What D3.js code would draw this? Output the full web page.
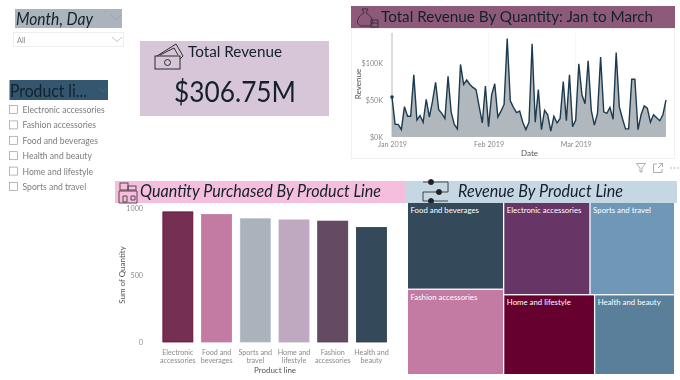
<!DOCTYPE html>
<html>
<head>
<meta charset="utf-8">
<script src="https://cdn.jsdelivr.net/npm/d3@7"></script>
<style>
  html, body { margin: 0; background: #fff; }
  svg { display: block; font-family: Lato, sans-serif; filter: blur(0.3px); }
  .head { fill: #14202c; }
  .domain { display: none; }
  .tick line { display: none; }
  .tick text { fill: #8a8a8a; font-size: 7.2px; font-family: Lato, sans-serif; }
</style>
</head>
<body>
<svg id="chart" width="680" height="380"></svg>
<script>
// daily revenue in $K, Jan 1 to Mar 30 2019
const revenue = [54, 17, 17, 10, 41, 28, 28, 84, 23, 29, 20, 51, 27, 48, 74, 37, 32, 25, 82, 34,
  17, 11, 98, 71, 77, 71, 67, 64, 41, 19, 69, 14, 57, 72, 27, 35, 44, 133, 49, 40, 33, 35, 20, 10,
  20, 126, 20, 64, 10, 36, 30, 8, 28, 19, 25, 75, 22, 84, 14, 23, 99, 57, 45, 103, 36, 16, 32, 108,
  34, 32, 40, 24, 114, 41, 25, 11, 11, 78, 78, 10, 30, 42, 39, 20, 30, 26, 22, 30, 50];
const startDate = new Date(2019, 0, 1);
const endDate = new Date(2019, 2, 30);
const monthTicks = [new Date(2019, 0, 1), new Date(2019, 1, 1), new Date(2019, 2, 1)];
const revenueTicks = [0, 50, 100];

const barLines = ['Electronic accessories', 'Food and beverages', 'Sports and travel',
  'Home and lifestyle', 'Fashion accessories', 'Health and beauty'];
const barValues = [971, 952, 920, 911, 902, 854];
const barColors = ['#742f52', '#c37aa3', '#aab3bb', '#bfa9c1', '#654a64', '#34495a'];
const barStrokes = ['#680a33', '#c37aa3', '#b4bcc3', '#bfa9c1', '#553a55', '#243c4d'];
const qtyTicks = [0, 500, 1000];

const treeLines = ['Food and beverages', 'Fashion accessories', 'Electronic accessories',
  'Sports and travel', 'Home and lifestyle', 'Health and beauty'];
const treeValues = [55.7, 54.8, 53.1, 52.1, 48.4, 42.6];
const treeColors = ['#34495a', '#c37aa3', '#673566', '#6f98b8', '#66002e', '#5a7f9a'];

const sliceItems = ['Electronic accessories', 'Fashion accessories', 'Food and beverages',
  'Health and beauty', 'Home and lifestyle', 'Sports and travel'];

const svg = d3.select('#chart');

function chevron(x, y, color) {
  svg.append('path')
    .attr('d', `M${x},${y} l5,4.5 l5,-4.5`)
    .attr('fill', 'none')
    .attr('stroke', color)
    .attr('stroke-width', 0.8);
}

function band(x, y, w, h, fill) {
  svg.append('rect').attr('x', x).attr('y', y).attr('width', w).attr('height', h).attr('fill', fill);
}

// the original font is narrower than Lato, so titles get squeezed to their measured width
function heading(x, y, size, txt, width, italic) {
  svg.append('text')
    .attr('class', 'head')
    .attr('x', x)
    .attr('y', y)
    .attr('font-size', size)
    .attr('font-style', italic ? 'italic' : 'normal')
    .attr('textLength', width)
    .attr('lengthAdjust', 'spacingAndGlyphs')
    .text(txt);
}

// month/day slicer
band(15, 9, 107, 19, '#abb4bc');
heading(16, 25, 16.5, 'Month, Day', 77, true);
chevron(111, 15, '#98a1a9');
svg.append('rect').attr('x', 13.5).attr('y', 32.5).attr('width', 110).attr('height', 14)
  .attr('fill', '#fff').attr('stroke', '#eceff1');
svg.append('text').attr('x', 17).attr('y', 43).attr('font-size', 7.5).attr('fill', '#8a8a8a').text('All');
chevron(112, 37, '#b5b5b5');

// product line slicer
band(9.5, 80, 98.5, 20, '#34566f');
heading(10, 96.7, 17, 'Product li...', 77, false);
chevron(98, 87, '#46677f');
const sliceY = d3.scalePoint().domain(sliceItems).range([110, 187]);
sliceItems.forEach(d => {
  svg.append('rect').attr('x', 9.5).attr('y', sliceY(d) - 4.5).attr('width', 8).attr('height', 8)
    .attr('fill', '#fff').attr('stroke', '#9a9a9a').attr('stroke-width', 0.7);
  svg.append('text').attr('x', 22.5).attr('y', sliceY(d) + 3).attr('font-size', 8.6)
    .attr('fill', '#7c7c7c').text(d);
});

// KPI card
band(140, 41, 189, 75, '#d6c6d8');
heading(188, 56.5, 15.5, 'Total Revenue', 94, false);
heading(174, 102, 28, '$306.75M', 122, false);
const cash = svg.append('g').attr('fill', 'none').attr('stroke', '#1c1c1c').attr('stroke-width', 0.9);
cash.append('rect').attr('x', 155).attr('y', 56).attr('width', 25).attr('height', 13);
cash.append('circle').attr('cx', 167.5).attr('cy', 62.5).attr('r', 3);
cash.append('path').attr('d', 'M157,56 L176,44 L183,56 L180,59 M160,55 L174,48 L178,55');

// line chart card
band(351, 6, 324, 22, '#8e5a7c');
heading(381, 21.7, 16, 'Total Revenue By Quantity: Jan to March', 272, false);
svg.append('rect').attr('x', 351.5).attr('y', 28.5).attr('width', 323).attr('height', 130)
  .attr('fill', '#fff').attr('stroke', '#f1f1f1');
const bag = svg.append('g').attr('fill', 'none').attr('stroke', '#3a2a36').attr('stroke-width', 0.9);
bag.append('path').attr('d', 'M362,9 L368,9 L366,13 C374,17 374,25 370,26 L361,26 C356,25 356,17 364,13 Z');
bag.append('rect').attr('x', 371).attr('y', 20).attr('width', 7).attr('height', 7);
bag.append('path').attr('d', 'M371,23 H378');

const x = d3.scaleTime().domain([startDate, endDate]).range([392, 666]);
const y = d3.scaleLinear().domain([0, 100]).range([137, 63]);
const dates = revenue.map((d, i) => d3.timeDay.offset(startDate, i));

svg.append('g').selectAll('line').data(monthTicks.slice(1))
  .join('line')
  .attr('x1', d => x(d)).attr('x2', d => x(d)).attr('y1', 33).attr('y2', 137)
  .attr('stroke', '#f6f6f6');

svg.append('path').datum(revenue)
  .attr('fill', '#b0b7bd')
  .attr('d', d3.area().x((d, i) => x(dates[i])).y0(y(0)).y1(d => y(d)));
svg.append('line').attr('x1', x(startDate)).attr('x2', x(startDate)).attr('y1', 33).attr('y2', 137)
  .attr('stroke', '#a8a8a8').attr('stroke-width', 0.8);
svg.append('path').datum(revenue)
  .attr('fill', 'none')
  .attr('stroke', '#1d3a4e')
  .attr('stroke-width', 1.4)
  .attr('d', d3.line().x((d, i) => x(dates[i])).y(d => y(d)));
svg.append('circle').attr('cx', x(startDate)).attr('cy', y(revenue[0])).attr('r', 1.8).attr('fill', '#1d3a4e');

svg.append('g').attr('transform', 'translate(0,137)')
  .call(d3.axisBottom(x).tickValues(monthTicks).tickSize(0).tickPadding(5).tickFormat(d3.timeFormat('%b %Y')));
svg.append('g').attr('transform', 'translate(383,0)')
  .call(d3.axisLeft(y).tickValues(revenueTicks).tickSize(0).tickPadding(0).tickFormat(d => `$${d}K`));
svg.append('text').attr('x', 529.5).attr('y', 156).attr('text-anchor', 'middle')
  .attr('font-size', 8).attr('fill', '#555').text('Date');
svg.append('text').attr('transform', 'translate(360.5,84) rotate(-90)').attr('text-anchor', 'middle')
  .attr('font-size', 8).attr('fill', '#555').text('Revenue');

// hover icons above the treemap
const hover = svg.append('g').attr('fill', 'none').attr('stroke', '#8c8c8c').attr('stroke-width', 0.7);
hover.append('path').attr('d', 'M636.5,163.5 H645.5 L642,168 V172 H640 V168 Z');
hover.append('path').attr('d', 'M657,164 H653.5 V172.5 H662 V169 M659,163.5 H662.5 V167 M662.5,163.5 L658,168');
hover.append('path').attr('d', 'M670.5,168 h1.2 M674,168 h1.2 M677.5,168 h1.2').attr('stroke-width', 1.1);

// bar chart
band(115, 181, 290, 22, '#f5bedc');
heading(140, 196.7, 16.5, 'Quantity Purchased By Product Line', 241, true);
const store = svg.append('g').attr('fill', 'none').attr('stroke', '#4a3a44').attr('stroke-width', 0.9);
store.append('rect').attr('x', 120).attr('y', 183).attr('width', 8).attr('height', 7);
store.append('rect').attr('x', 128).attr('y', 186).attr('width', 8).attr('height', 4);
store.append('path').attr('d', 'M119,191 H137 V203 H119 Z M123,196 h4 v6 h-4 Z M131,196 h4 v4 h-4 Z');

const xBar = d3.scaleBand().domain(barLines).range([158.6, 390.7]).paddingInner(0.225).paddingOuter(0.11);
const yBar = d3.scaleLinear().domain([0, 1000]).range([342, 208]);

svg.append('g').selectAll('rect').data(barLines).join('rect')
  .attr('x', d => xBar(d))
  .attr('y', (d, i) => yBar(barValues[i]))
  .attr('width', xBar.bandwidth())
  .attr('height', (d, i) => yBar(0) - yBar(barValues[i]))
  .attr('fill', (d, i) => barColors[i])
  .attr('stroke', (d, i) => barStrokes[i])
  .attr('stroke-width', 0.8);

svg.append('g').attr('transform', 'translate(143,0)')
  .call(d3.axisLeft(yBar).tickValues(qtyTicks).tickSize(0).tickPadding(0).tickFormat(d3.format('d')));

const xAxis = svg.append('g').attr('transform', 'translate(0,349.5)')
  .call(d3.axisBottom(xBar).tickSize(0).tickPadding(0));
xAxis.selectAll('.tick text').each(function(d) {
  const words = d.split(' ');
  const t = d3.select(this).text(null);
  t.append('tspan').attr('x', 0).attr('dy', '0.71em').text(words.slice(0, -1).join(' '));
  t.append('tspan').attr('x', 0).attr('dy', '1.2em').text(words[words.length - 1]);
});
svg.append('text').attr('x', 275).attr('y', 373).attr('text-anchor', 'middle')
  .attr('font-size', 8).attr('fill', '#555').text('Product line');
svg.append('text').attr('transform', 'translate(125,275) rotate(-90)').attr('text-anchor', 'middle')
  .attr('font-size', 8).attr('fill', '#555').text('Sum of Quantity');

// treemap
band(405, 181, 272, 22, '#c5d7e2');
heading(458, 196.7, 16.5, 'Revenue By Product Line', 165, true);
const flow = svg.append('g').attr('fill', 'none').attr('stroke', '#222').attr('stroke-width', 0.8);
flow.append('path').attr('d', 'M423,182 H448 V192 H423 V201 H448');
[[431, 182], [439, 192], [431, 201]].forEach(p => {
  flow.append('circle').attr('cx', p[0]).attr('cy', p[1]).attr('r', 2.6).attr('fill', '#222');
});

const root = d3.hierarchy({ children: treeLines.map((d, i) => ({ name: d, value: treeValues[i], color: treeColors[i] })) })
  .sum(d => d.value)
  .sort((a, b) => b.value - a.value);
d3.treemap().size([266, 171]).paddingInner(1.3)(root);

const cells = svg.append('g').attr('transform', 'translate(408,203)')
  .selectAll('g').data(root.leaves()).join('g')
  .attr('transform', d => `translate(${d.x0},${d.y0})`);
cells.append('rect')
  .attr('width', d => d.x1 - d.x0)
  .attr('height', d => d.y1 - d.y0)
  .attr('fill', d => d.data.color);
cells.append('text')
  .attr('x', 2.5)
  .attr('y', 10)
  .attr('font-size', 7.8)
  .attr('fill', '#fff')
  .text(d => d.data.name);
</script>
</body>
</html>
